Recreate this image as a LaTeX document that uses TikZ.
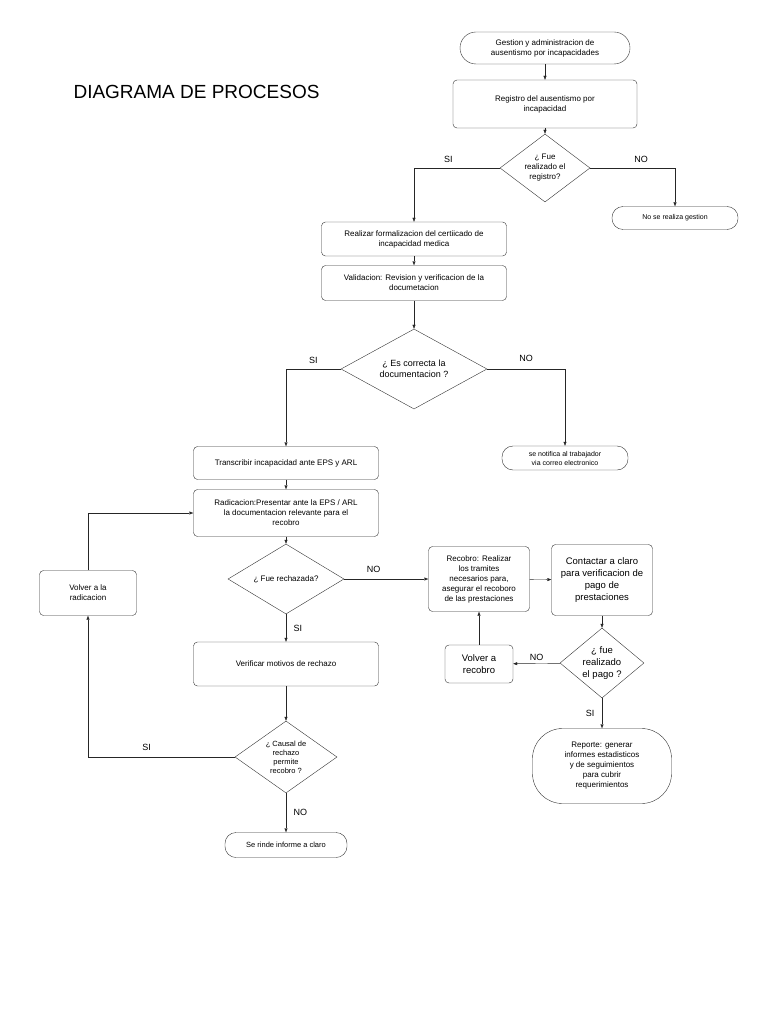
\documentclass[tikz,border=0pt]{standalone}
\usepackage{fontspec}
\setmainfont{Liberation Sans}
\usetikzlibrary{shapes.geometric,arrows.meta,positioning}
\begin{document}
\begin{tikzpicture}[x=1pt,y=-1pt,
  box/.style={draw=black!80,rounded corners=4pt,align=center,inner sep=1pt,font=\fontsize{8}{10}\selectfont},
  pill/.style={draw=black!80,rounded corners=11pt,align=center,inner sep=1pt,font=\fontsize{8}{10}\selectfont},
  dia/.style={draw=black!80,diamond,aspect=1.3,align=center,inner sep=0pt,font=\fontsize{8}{10}\selectfont},
  arr/.style={draw=black!85,-{Triangle[length=4pt,width=3pt]}},
  lab/.style={font=\fontsize{9}{11}\selectfont}]
\useasboundingbox (0,0) rectangle (768,1024);
\node[anchor=west,font=\fontsize{19}{22}\selectfont] (title) at (70,92) {DIAGRAMA DE PROCESOS};
\node[pill,minimum width=170,minimum height=32,rounded corners=16pt] (start) at (545,48) {Gestion y administracion de\\ausentismo por incapacidades};
\node[box,minimum width=184,minimum height=48] (reg) at (545,104) {Registro del ausentismo por\\incapacidad};
\node[dia,minimum width=90,minimum height=68] (d1) at (545,168) {¿ Fue\\realizado el\\registro?};
\node[pill,minimum width=126,minimum height=23] (nosg) at (675,218) {\fontsize{7}{9}\selectfont No se realiza gestion};
\node[box,minimum width=185,minimum height=34] (formal) at (414,239) {Realizar formalizacion del certiicado de\\incapacidad medica};
\node[box,minimum width=185,minimum height=35] (valid) at (414,283) {Validacion: Revision y verificacion de la\\documetacion};
\node[dia,minimum width=146,minimum height=80,font=\fontsize{9}{11}\selectfont] (d2) at (414,369) {¿ Es correcta la\\documentacion ?};
\node[pill,minimum width=126,minimum height=24,font=\fontsize{7}{9}\selectfont] (notif) at (565,458) {se notifica al trabajador\\via correo electronico};
\node[box,minimum width=185,minimum height=33] (trans) at (286,463) {Transcribir incapacidad ante EPS y ARL};
\node[box,minimum width=185,minimum height=47] (rad) at (286,513) {Radicacion:Presentar ante la EPS / ARL\\la documentacion relevante para el\\recobro};
\node[dia,minimum width=116,minimum height=70] (d3) at (286,579) {¿ Fue rechazada?};
\node[box,minimum width=101,minimum height=65] (recob) at (479,579) {Recobro: Realizar\\los tramites\\necesarios para,\\asegurar el recoboro\\de las prestaciones};
\node[box,minimum width=101,minimum height=71,font=\fontsize{9.5}{12}\selectfont] (contact) at (602,580) {Contactar a claro\\para verificacion de\\pago de\\prestaciones};
\node[dia,minimum width=84,minimum height=70,font=\fontsize{9.5}{12}\selectfont] (d4) at (602,663) {¿ fue\\realizado\\el pago ?};
\node[box,minimum width=68,minimum height=38,font=\fontsize{9.5}{12}\selectfont] (volverR) at (479,664) {Volver a\\recobro};
\node[pill,minimum width=139,minimum height=75,rounded corners=30pt] (report) at (602,766) {Reporte: generar\\informes estadisticos\\y de seguimientos\\para cubrir\\requerimientos};
\node[box,minimum width=185,minimum height=44] (verif) at (286,664) {Verificar motivos de rechazo};
\node[dia,minimum width=102,minimum height=72,font=\fontsize{7.5}{9}\selectfont] (d5) at (286,757) {¿ Causal de\\rechazo\\permite\\recobro ?};
\node[box,minimum width=97,minimum height=45] (volver) at (88,593) {Volver a la\\radicacion};
\node[pill,minimum width=122,minimum height=25,font=\fontsize{7.5}{9}\selectfont] (final) at (286,845) {Se rinde informe a claro};

\draw[arr] (start) -- (reg);
\draw[arr] (reg) -- (d1);
\draw[arr] (d1.west) -| (formal.north) node[lab,pos=0.3,above=2pt] {SI};
\draw[arr] (d1.east) -| (nosg.north) node[lab,pos=0.3,above=2pt] {NO};
\draw[arr] (formal) -- (valid);
\draw[arr] (valid) -- (d2);
\draw[arr] (d2.west) -| (trans.north) node[lab,pos=0.25,above=2pt] {SI};
\draw[arr] (d2.east) -| (notif.north) node[lab,pos=0.25,above=4pt] {NO};
\draw[arr] (trans) -- (rad);
\draw[arr] (rad) -- (d3);
\draw[arr] (d3) -- (recob) node[lab,pos=0.35,above=3pt] {NO};
\draw[arr] (recob) -- (contact);
\draw[arr] (contact) -- (d4);
\draw[arr] (d4) -- (volverR) node[lab,midway,above=-1pt] {NO};
\draw[arr] (volverR) -- (recob);
\draw[arr] (d4) -- (report) node[lab,midway,left=4pt] {SI};
\draw[arr] (d3) -- (verif) node[lab,midway,right=4pt] {SI};
\draw[arr] (verif) -- (d5);
\draw[arr] (d5.west) -| (volver.south) node[lab,pos=0.3,above=3pt] {SI};
\draw[arr] (volver.north) |- (rad.west);
\draw[arr] (d5) -- (final) node[lab,midway,right=4pt] {NO};
\end{tikzpicture}
\end{document}
